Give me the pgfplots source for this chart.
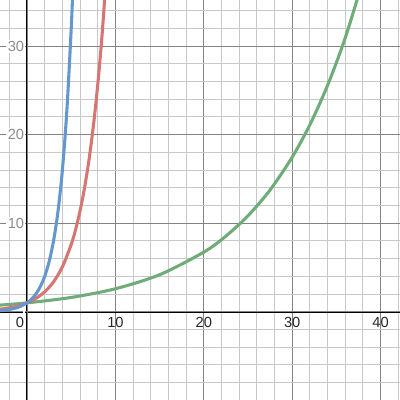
\documentclass[border=0pt]{standalone}
\usepackage{pgfplots}
\pgfplotsset{compat=1.18}
\usepackage{fontspec}
\setmainfont{Liberation Sans}
\definecolor{dblue}{RGB}{100,152,204}
\definecolor{dred}{RGB}{214,118,115}
\definecolor{dgreen}{RGB}{110,172,120}
\definecolor{minorg}{RGB}{200,200,200}
\definecolor{majorg}{RGB}{130,130,130}
\begin{document}
\begin{tikzpicture}
\begin{axis}[
  name=ax,
  scale only axis, width=300pt, height=300pt,
  xmin=-3.06, xmax=42.2, ymin=-9.97, ymax=35.2,
  axis lines=middle,
  axis line style={-, black, line width=1.6pt},
  xtick={10,20,30,40}, ytick={10,20,30},
  minor xtick={-2,2,4,6,8,12,14,16,18,22,24,26,28,32,34,36,38,42},
  minor ytick={-8,-6,-4,-2,2,4,6,8,12,14,16,18,22,24,26,28,32,34},
  extra x ticks={0}, extra x tick style={grid=major, xticklabels={}},
  extra y ticks={-10,0}, extra y tick style={grid=major, yticklabels={}},
  grid=both,
  major grid style={majorg, line width=0.7pt},
  minor grid style={minorg, line width=0.7pt},
  major tick length=0pt, minor tick length=0pt,
  /pgf/number format/assume math mode=true,
  x tick label style={font=\fontsize{11}{12}\selectfont, text=black!85, yshift=-1pt},
  y tick label style={font=\fontsize{11}{12}\selectfont, text=black!45, xshift=-1pt, fill=white, inner sep=1pt},
  clip=true,
  axis on top=false,
]
\addplot[dgreen, line width=2.3pt, smooth] coordinates {
  (-3.1,0.744) (0,1) (5,1.611) (10,2.594) (15,4.177) (20,6.727)
  (22.5,8.538) (25,10.835) (27.5,13.75) (30,17.449) (32,21.11)
  (34,25.55) (36,30.91) (38,37.40)
};
\addplot[dred, line width=2.3pt, smooth] coordinates {
  (-3.1,0.285) (-2,0.444) (-1,0.667) (0,1) (1,1.5) (2,2.25) (3,3.375)
  (4,5.063) (5,7.594) (5.5,9.30) (6,11.39) (6.5,13.95) (7,17.09)
  (7.5,20.93) (8,25.63) (8.5,31.39) (9,38.44)
};
\addplot[dblue, line width=2.3pt, smooth] coordinates {
  (-3.1,0.117) (-2,0.25) (-1,0.5) (0,1) (0.5,1.414) (1,2) (1.5,2.828)
  (2,4) (2.5,5.657) (3,8) (3.5,11.31) (4,16) (4.5,22.63) (5,32) (5.25,38.05)
};
\node[anchor=north east, font=\fontsize{11}{12}\selectfont, text=black!85, inner sep=2pt, yshift=-2pt] at (axis cs:0,0) {0};
\end{axis}
\pgfresetboundingbox
\path (ax.south west) rectangle (ax.north east);
\end{tikzpicture}
\end{document}
